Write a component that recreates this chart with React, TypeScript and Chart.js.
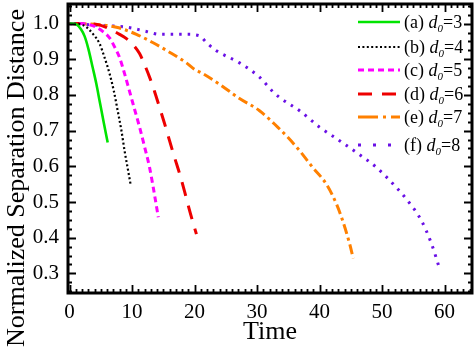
import React, { useEffect, useRef } from "react";
import { Chart, registerables } from "chart.js";

Chart.register(...registerables);

// ---- data ----
const seriesLabels = ["a", "b", "c", "d", "e", "f"];
const seriesD0 = ["3", "4", "5", "6", "7", "8"];

const timeA = [0, 0.5, 1.1, 1.8, 2.4, 3.0, 3.7, 4.3, 4.8, 5.5, 6.1];
const valA = [1.0, 1.0, 0.998, 0.985, 0.965, 0.93, 0.877, 0.83, 0.784, 0.72, 0.667];

const timeB = [0, 1, 2, 2.7, 3.8, 4.8, 5.6, 6.4, 7.1, 7.7, 8.3, 8.8, 9.3, 9.8];
const valB = [1.0, 1.0, 0.997, 0.99, 0.97, 0.944, 0.905, 0.86, 0.81, 0.756, 0.7, 0.644, 0.595, 0.546];

const timeC = [0, 2, 3.2, 4.3, 5.4, 6.4, 7.2, 8, 8.8, 9.6, 10.4, 11.2, 12.0, 12.8, 13.5, 14.2];
const valC = [1.0, 1.0, 0.997, 0.99, 0.977, 0.96, 0.935, 0.905, 0.86, 0.81, 0.76, 0.71, 0.655, 0.597, 0.53, 0.457];

const timeD = [0, 3, 5, 6.4, 8, 9.1, 10.2, 11.2, 12, 12.8, 13.6, 14.4, 15.2, 16, 16.8, 17.6, 18.4, 19.3, 20.3];
const valD = [1.0, 1.0, 0.995, 0.985, 0.97, 0.958, 0.94, 0.916, 0.885, 0.85, 0.81, 0.765, 0.72, 0.672, 0.625, 0.58, 0.53, 0.47, 0.41];

const timeE = [0, 4, 7.5, 10.7, 13.3, 16, 18.7, 20, 21.3, 24, 27.2, 30.4, 33.3, 35, 36.8, 38.9, 41.1, 42.7, 43.7, 44.8, 45.4];
const valE = [1.0, 0.998, 0.99, 0.97, 0.947, 0.92, 0.89, 0.872, 0.86, 0.83, 0.79, 0.756, 0.71, 0.68, 0.644, 0.597, 0.55, 0.495, 0.448, 0.384, 0.342];

const timeF = [0, 4.8, 9.1, 12.3, 14.4, 16.5, 18.7, 20.8, 22, 23.5, 27.2, 30.4, 32.5, 33.6, 36.8, 40, 43.2, 46.4, 49.1, 51.7, 54.1, 56.3, 57.9, 59.2];
const valF = [1.0, 0.995, 0.99, 0.978, 0.97, 0.97, 0.97, 0.966, 0.945, 0.924, 0.89, 0.85, 0.81, 0.793, 0.756, 0.71, 0.672, 0.633, 0.597, 0.552, 0.504, 0.448, 0.384, 0.314];

const xTickValues = [0, 10, 20, 30, 40, 50, 60];
const yTickValues = [0.3, 0.4, 0.5, 0.6, 0.7, 0.8, 0.9, 1.0];

const X_MIN = -0.25;
const X_MAX = 64.4;
const Y_MIN = 0.245;
const Y_MAX = 1.055;

const SERIF = "'Liberation Serif', 'Times New Roman', serif";

const styles = [
  { color: "#00e400", width: 2.6, dash: [] as number[], legendDash: [] as number[] },
  { color: "#000000", width: 2.2, dash: [2, 2.4], legendDash: [2, 2.4] },
  { color: "#ff00ff", width: 3, dash: [6, 4], legendDash: [6, 4] },
  { color: "#ee0000", width: 3, dash: [14, 10], legendDash: [14, 10] },
  { color: "#ff8000", width: 3, dash: [10, 4, 3, 4], legendDash: [20, 5, 3, 5] },
  { color: "#6a10e6", width: 3, dash: [2.5, 6], legendDash: [3, 12] },
];

const times = [timeA, timeB, timeC, timeD, timeE, timeF];
const vals = [valA, valB, valC, valD, valE, valF];

const framePlugin = {
  id: "framePlugin",
  afterDraw(chart: any) {
    const { ctx, chartArea } = chart;
    const xs = chart.scales.x;
    const ys = chart.scales.y;
    const { left, right, top, bottom } = chartArea;
    ctx.save();
    ctx.setLineDash([]);
    ctx.strokeStyle = "#000";
    // ticks
    ctx.lineWidth = 1.8;
    const majorLen = 8;
    const minorLen = 4;
    for (let v = 0; v <= 64; v += 1) {
      const px = Math.round(xs.getPixelForValue(v)) + 0.5;
      const len = v % 10 === 0 ? majorLen : minorLen;
      ctx.beginPath();
      ctx.moveTo(px, bottom);
      ctx.lineTo(px, bottom - len);
      ctx.moveTo(px, top);
      ctx.lineTo(px, top + len);
      ctx.stroke();
    }
    for (let i = 0; i <= 32; i++) {
      const v = 0.25 + i * 0.025;
      if (v > Y_MAX) break;
      const py = Math.round(ys.getPixelForValue(v)) + 0.5;
      const isMajor = Math.abs(Math.round(v * 10) - v * 10) < 1e-6;
      const len = isMajor ? majorLen : minorLen;
      ctx.beginPath();
      ctx.moveTo(left, py);
      ctx.lineTo(left + len, py);
      ctx.moveTo(right, py);
      ctx.lineTo(right - len, py);
      ctx.stroke();
    }
    // frame
    ctx.lineWidth = 3;
    ctx.strokeRect(left, top, right - left, bottom - top);

    // axis titles
    ctx.fillStyle = "#000";
    ctx.font = `26px ${SERIF}`;
    ctx.textAlign = "center";
    ctx.textBaseline = "alphabetic";
    ctx.fillText("Time", (left + right) / 2, 339);
    ctx.save();
    ctx.translate(24, 178);
    ctx.rotate(-Math.PI / 2);
    ctx.fillText("Normalized Separation Distance", 0, 0);
    ctx.restore();

    // legend
    const rowY = [22, 47, 70, 94, 117, 145];
    const x0 = 358;
    const x1 = 400;
    const textX = 404;
    chart.data.datasets.forEach((ds: any, i: number) => {
      const y = rowY[i];
      const st = styles[i];
      ctx.save();
      ctx.strokeStyle = st.color;
      ctx.lineWidth = st.width;
      ctx.setLineDash(st.legendDash);
      ctx.beginPath();
      ctx.moveTo(x0, y);
      ctx.lineTo(x1, y);
      ctx.stroke();
      ctx.restore();
      ctx.fillStyle = "#000";
      ctx.textAlign = "left";
      ctx.textBaseline = "alphabetic";
      let x = textX;
      const base = y + 6;
      ctx.font = `18px ${SERIF}`;
      const p1 = `(${seriesLabels[i]}) `;
      ctx.fillText(p1, x, base);
      x += ctx.measureText(p1).width;
      ctx.font = `italic 18px ${SERIF}`;
      ctx.fillText("d", x, base);
      x += ctx.measureText("d").width;
      ctx.font = `italic 11px ${SERIF}`;
      ctx.fillText("0", x, base + 4);
      x += ctx.measureText("0").width;
      ctx.font = `18px ${SERIF}`;
      ctx.fillText(`=${seriesD0[i]}`, x, base);
    });
    ctx.restore();
  },
};

export default function App() {
  const canvasRef = useRef<HTMLCanvasElement | null>(null);

  useEffect(() => {
    if (!canvasRef.current) return;
    const datasets = times.map((t, i) => ({
      label: `(${seriesLabels[i]}) d0=${seriesD0[i]}`,
      data: t.map((x, j) => ({ x, y: vals[i][j] })),
      borderColor: styles[i].color,
      backgroundColor: styles[i].color,
      borderWidth: styles[i].width,
      borderDash: styles[i].dash,
      pointRadius: 0,
      fill: false,
      cubicInterpolationMode: "monotone" as const,
      borderCapStyle: "butt" as const,
    }));
    const chart = new Chart(canvasRef.current, {
      type: "line",
      data: { datasets },
      options: {
        responsive: false,
        animation: false,
        layout: { padding: { top: 4, right: 2, left: 0, bottom: 0 } },
        plugins: { legend: { display: false }, tooltip: { enabled: false } },
        scales: {
          x: {
            type: "linear",
            min: X_MIN,
            max: X_MAX,
            grid: { display: false, drawTicks: false },
            border: { display: false },
            ticks: {
              color: "#000",
              font: { family: SERIF, size: 21 },
              padding: 7,
              maxRotation: 0,
              callback: (v: any) => String(v),
            },
            afterBuildTicks: (scale: any) => {
              scale.ticks = xTickValues.map((v) => ({ value: v }));
            },
            afterFit: (scale: any) => {
              scale.height = 60;
              scale.paddingLeft = 0;
              scale.paddingRight = 0;
            },
          },
          y: {
            type: "linear",
            min: Y_MIN,
            max: Y_MAX,
            grid: { display: false, drawTicks: false },
            border: { display: false },
            ticks: {
              color: "#000",
              font: { family: SERIF, size: 21 },
              padding: 9,
              callback: (v: any) => Number(v).toFixed(1),
            },
            afterBuildTicks: (scale: any) => {
              scale.ticks = yTickValues.map((v) => ({ value: v }));
            },
            afterFit: (scale: any) => {
              scale.width = 68;
              scale.paddingTop = 0;
              scale.paddingBottom = 0;
            },
          },
        },
      },
      plugins: [framePlugin],
    });
    return () => chart.destroy();
  }, []);

  return (
    <div style={{ position: "absolute", left: 0, top: 0, width: 474, height: 353, background: "#fff" }}>
      <canvas ref={canvasRef} width={474} height={353} />
    </div>
  );
}
